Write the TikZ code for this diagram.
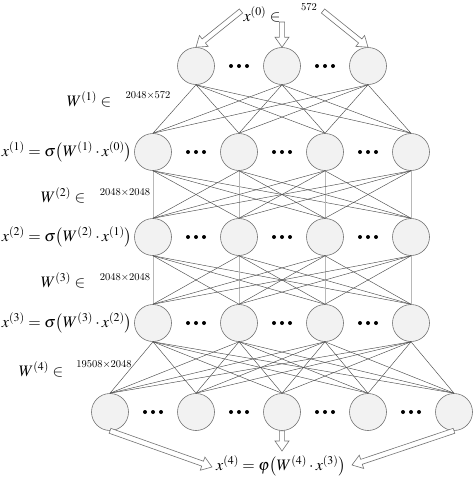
\documentclass[tikz,border=0pt]{standalone}
\usepackage{mathptmx}
\usetikzlibrary{calc}
\tikzset{
  neuron/.style={circle, draw=black!55, fill=black!5, minimum size=37pt, inner sep=0pt, line width=0.6pt},
  conn/.style={draw=black!70, line width=0.45pt},
  vconn/.style={draw=black!28, line width=0.5pt},
  formula/.style={inner sep=0pt, font=\fontsize{16}{19}\selectfont},
  dimlabel/.style={inner sep=0pt, font=\fontsize{10.5}{12}\selectfont},
  harrowsty/.style={draw=black!55, fill=white, line width=0.6pt, line join=miter},
  dotsty/.style={fill=black},
}
\newcommand\hollowarrow[2]{%
  \coordinate (hC) at ($(#2)!10pt!(#1)$);
  \draw[harrowsty] ($(#1)!2.6pt!90:(#2)$) -- ($(hC)!2.6pt!90:(#2)$) -- ($(hC)!7pt!90:(#2)$)
    -- (#2) -- ($(hC)!7pt!-90:(#2)$) -- ($(hC)!2.6pt!-90:(#2)$) -- ($(#1)!2.6pt!-90:(#2)$) -- cycle;
}
\newcommand\threedots[2]{%
  \foreach \dd in {-8,0,8} \fill[dotsty] ({#1+\dd},#2) circle (2pt);
}
\begin{document}
\begin{tikzpicture}[x=1pt,y=-1pt]
\useasboundingbox (0,0) rectangle (474,482);
% input layer
\foreach \i/\x in {1/196,2/282,3/368} \node[neuron] (in\i) at (\x,66) {};
% hidden layers
\foreach \l/\y in {1/152,2/237,3/323}
  \foreach \i/\x in {1/153,2/239,3/325,4/411} \node[neuron] (h\l\i) at (\x,\y) {};
% output layer
\foreach \i/\x in {1/110,2/196,3/282,4/368,5/454} \node[neuron] (out\i) at (\x,412) {};
% connections input -> hidden 1
\foreach \i in {1,2,3} \foreach \j in {1,2,3,4} \draw[conn] (in\i.south) -- (h1\j.north);
% hidden -> hidden
\foreach \l/\m in {1/2,2/3}
  \foreach \i in {1,2,3,4} \foreach \j in {1,2,3,4} {
    \ifnum\i=\j \draw[vconn] (h\l\i.south) -- (h\m\j.north);
    \else \draw[conn] (h\l\i.south) -- (h\m\j.north); \fi
  }
% hidden 3 -> output
\foreach \i in {1,2,3,4} \foreach \j in {1,2,3,4,5} \draw[conn] (h3\i.south) -- (out\j.north);
% dots
\threedots{239}{66}\threedots{325}{66}
\foreach \y in {152,237,323} {\threedots{196}{\y}\threedots{282}{\y}\threedots{368}{\y}}
\foreach \x in {153,239,325,411} {\threedots{\x}{412}}
% labels
\node[formula] (x0) at (262,14) {$x^{(0)}\in$};
\node[dimlabel] (d0) at (309,7) {572};
\node[formula] (w1) at (89,99) {$W^{(1)}\in$};
\node[dimlabel] (d1) at (148,95) {2048${\times}$572};
\node[formula] (x1) at (67,152) {$x^{(1)}=\sigma\bigl(W^{(1)}\cdot x^{(0)}\bigr)$};
\node[formula] (w2) at (63,195) {$W^{(2)}\in$};
\node[dimlabel] (d2) at (125,192) {2048${\times}$2048};
\node[formula] (x2) at (67,237) {$x^{(2)}=\sigma\bigl(W^{(2)}\cdot x^{(1)}\bigr)$};
\node[formula] (w3) at (63,280) {$W^{(3)}\in$};
\node[dimlabel] (d3) at (125,277) {2048${\times}$2048};
\node[formula] (x3) at (67,323) {$x^{(3)}=\sigma\bigl(W^{(3)}\cdot x^{(2)}\bigr)$};
\node[formula] (w4) at (41,369) {$W^{(4)}\in$};
\node[dimlabel] (d4) at (104,364) {19508${\times}$2048};
\node[formula] (x4) at (281,466) {$x^{(4)}=\varphi\bigl(W^{(4)}\cdot x^{(3)}\bigr)$};
% arrows
\coordinate (t1) at (241,11);
\coordinate (t2) at (282,22);
\coordinate (t3) at (323,11);
\hollowarrow{t1}{in1.north}
\hollowarrow{t2}{in2.north}
\hollowarrow{t3}{in3.north}
\coordinate (b1) at (212,467);
\coordinate (b2) at (282,451);
\coordinate (b3) at (352,465);
\hollowarrow{out1.south}{b1}
\hollowarrow{out3.south}{b2}
\hollowarrow{out5.south}{b3}
\end{tikzpicture}
\end{document}
